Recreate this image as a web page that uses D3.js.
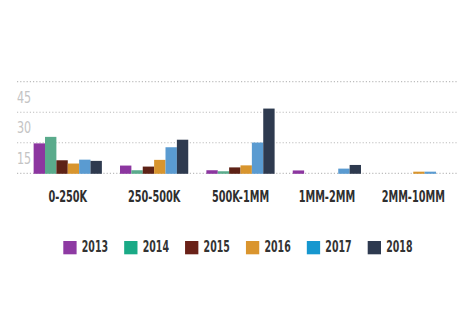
<!DOCTYPE html>
<html><head><meta charset="utf-8">
<script src="https://cdn.jsdelivr.net/npm/d3@7/dist/d3.min.js"></script>
<style>
html,body{margin:0;padding:0;background:#fff;}
svg{display:block;}
text{font-family:"Liberation Sans Narrow","DejaVu Sans Condensed","Liberation Sans",sans-serif;font-weight:bold;}
</style></head>
<body>
<svg id="chart" width="474" height="335"></svg>
<script>
const categories = ["0-250K","250-500K","500K-1MM","1MM-2MM","2MM-10MM"];
const years = ["2013","2014","2015","2016","2017","2018"];
const v2013 = [14.7, 3.8, 1.5, 1.4, 0];
const v2014 = [17.9, 1.5, 1.0, 0, 0];
const v2015 = [6.4, 3.3, 2.9, 0, 0];
const v2016 = [4.8, 6.6, 3.9, 0, 0.8];
const v2017 = [6.7, 12.8, 15.1, 2.3, 0.8];
const v2018 = [6.1, 16.5, 31.8, 4.1, 0];
const yTicks = [0, 15, 30, 45];
const yTickLabels = ["15","30","45"];

const series = [v2013, v2014, v2015, v2016, v2017, v2018];
const barColors = ["#8c36a0","#5aab8c","#5e2216","#d8952e","#5a9bd1","#2e3a4f"];
const legendColors = ["#8e3aa3","#1aaa86","#6a2118","#da952e","#1697cf","#2e3a50"];

const svg = d3.select("#chart");
const x0 = d3.scaleBand().domain(categories).range([25, 456]).paddingInner(0.21).paddingOuter(0.1);
const x1 = d3.scaleBand().domain(years).range([0, x0.bandwidth()]);
const y = d3.scaleLinear().domain([0, 45]).range([173.3, 81.7]);

// gridlines
svg.append("g").selectAll("line").data(yTicks).join("line")
  .attr("x1", 17).attr("x2", 458)
  .attr("y1", d => y(d)).attr("y2", d => y(d))
  .attr("stroke", "#bdbdbd").attr("stroke-width", 1.2)
  .attr("stroke-dasharray", "1.2,2");

// y labels (hang below their gridline)
svg.append("g").selectAll("text").data(yTicks.slice(1)).join("text")
  .attr("transform", d => `translate(17,${y(d) + 16.5}) scale(0.8,1)`)
  .attr("dominant-baseline", "middle")
  .attr("font-size", 15.5)
  .style("font-weight", "normal")
  .attr("fill", "#c4c4c4")
  .text((d, i) => yTickLabels[i]);

// bars
const g = svg.append("g");
categories.forEach((c, ci) => {
  years.forEach((yr, yi) => {
    const v = series[yi][ci];
    if (v <= 0) return;
    g.append("rect")
      .attr("x", x0(c) + x1(yr))
      .attr("width", x1.bandwidth())
      .attr("y", y(v))
      .attr("height", y(0) - y(v) + 0.5)
      .attr("fill", barColors[yi]);
  });
});

// category labels
svg.append("g").selectAll("text").data(categories).join("text")
  .attr("transform", d => `translate(${x0(d) + x0.bandwidth()/2},197.5) scale(0.7,1)`)
  .attr("text-anchor", "middle")
  .attr("dominant-baseline", "middle")
  .attr("font-size", 15.5)
  .attr("fill", "#2f2f2f")
  .text(d => d);

// legend
const lx = d3.scalePoint().domain(years).range([63.3, 367.7]);
const lg = svg.append("g");
years.forEach((yr, i) => {
  lg.append("rect").attr("x", lx(yr)).attr("y", 241).attr("width", 13.3).attr("height", 13.3)
    .attr("fill", legendColors[i]);
  lg.append("text")
    .attr("transform", `translate(${lx(yr) + 18.5},248) scale(0.7,1)`)
    .attr("dominant-baseline", "middle")
    .attr("font-size", 15)
    .attr("fill", "#333")
    .text(yr);
});
</script>
</body></html>
